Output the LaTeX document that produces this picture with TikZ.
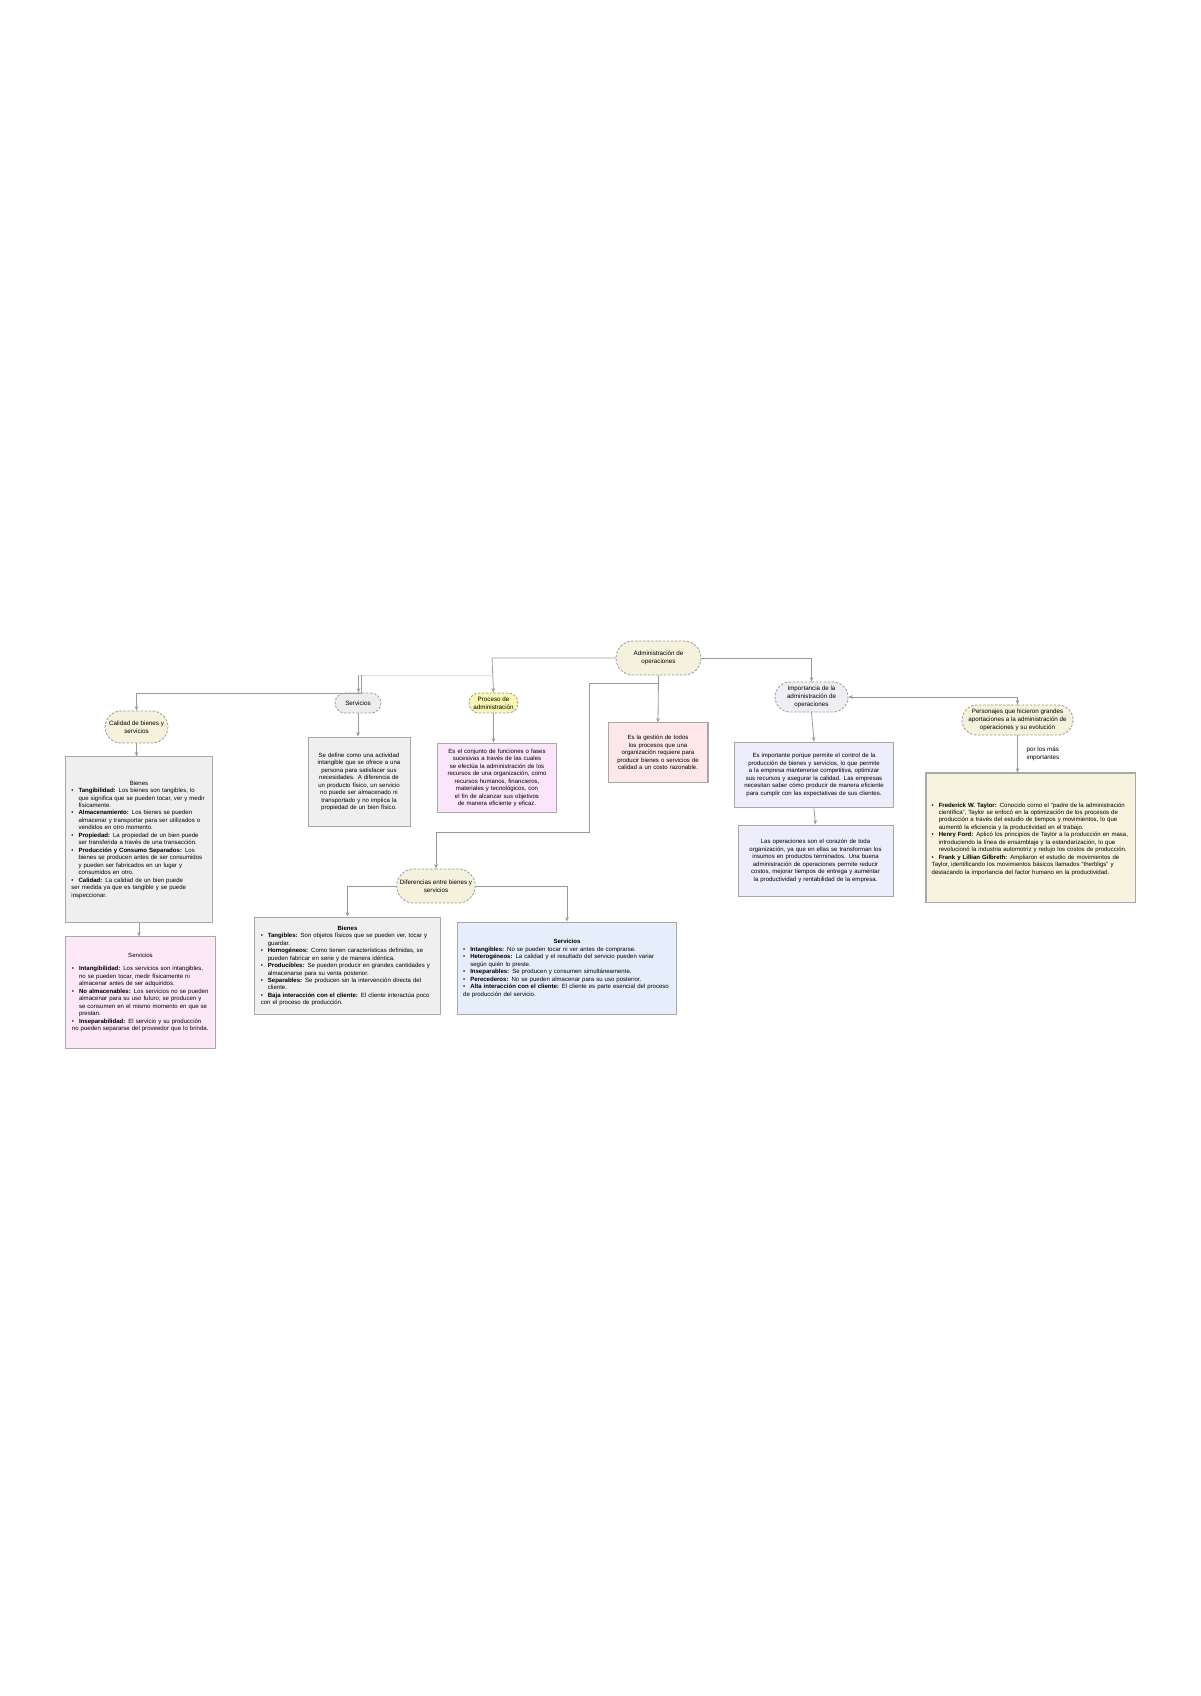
\documentclass[tikz,border=0pt]{standalone}
\usepackage{fontspec}
\setmainfont{Liberation Sans}
\usetikzlibrary{shapes.misc,arrows.meta}
\definecolor{beige}{HTML}{F4F1DC}
\definecolor{pillborder}{HTML}{9A9A9A}
\definecolor{boxborder}{HTML}{A8A8A8}
\definecolor{linegray}{HTML}{9A9A9A}
\definecolor{faintgray}{HTML}{E2E2E2}
\definecolor{graybox}{HTML}{EFEFEF}
\definecolor{pinkL}{HTML}{FCE8F6}
\definecolor{procbox}{HTML}{FBE5FA}
\definecolor{pinkC}{HTML}{FDE7E9}
\definecolor{purpbox}{HTML}{EEEDFC}
\definecolor{rightbox}{HTML}{F6F3DE}
\definecolor{bluebox}{HTML}{E7EEFB}
\definecolor{yellownode}{HTML}{F8F6B0}
\definecolor{graynode}{HTML}{EDEDED}
\definecolor{purpnode}{HTML}{EFEFF3}
\newcommand\nohy{\hyphenpenalty=10000\relax\exhyphenpenalty=10000\relax}
\newcommand\bul[2]{\par\hangindent=3.5pt\hangafter=1\noindent\makebox[3.5pt][l]{\textbullet}\textbf{#1} #2}
\begin{document}
\begin{tikzpicture}[x=0.4961pt,y=-0.4961pt,
  pill/.style={rounded rectangle, draw=pillborder, dash pattern=on 1.2pt off 0.8pt, line width=0.4pt, align=center, font=\fontsize{3.1}{3.8}\selectfont\nohy, inner sep=1pt},
  box/.style={rectangle, draw=boxborder, line width=0.5pt, font=\fontsize{3}{3.7}\selectfont\nohy, inner sep=0pt},
  conn/.style={draw=linegray, line width=0.4pt},
  arr/.style={conn, -{Stealth[length=2.2pt,width=1.8pt]}},
  darr/.style={conn, {Stealth[length=2.2pt,width=1.8pt]}-{Stealth[length=2.2pt,width=1.8pt]}}]
\useasboundingbox (0,0) rectangle (1200,1696);
\fill[white] (0,0) rectangle (1200,1696);

% pills
\node[pill, fill=beige, minimum width=44.2pt, minimum height=16.9pt] (root) at (658.5,658) {Administración de\\operaciones};
\node[pill, fill=beige, minimum width=33.2pt, minimum height=15.9pt] (cal) at (136.5,727) {Calidad de bienes y\\servicios};
\node[pill, fill=graynode, minimum width=24.8pt, minimum height=9.9pt] (serv) at (358,703) {Servicios};
\node[pill, fill=yellownode, minimum width=26.3pt, minimum height=9.9pt] (proc) at (493.5,703) {Proceso de\\administración};
\node[pill, fill=purpnode, minimum width=38.2pt, minimum height=14.9pt] (imp) at (811.5,697) {Importancia de la\\administración de\\operaciones};
\node[pill, fill=beige, minimum width=47.1pt, minimum height=14.9pt] (pers) at (1017.5,720) {Personajes que hicieron grandes\\aportaciones a la administración de\\operaciones y su evolución};
\node[pill, fill=beige, minimum width=38.7pt, minimum height=16.9pt] (dif) at (436,886) {Diferencias entre bienes y\\servicios};

% boxes
\node[box, fill=graybox, minimum width=73.4pt, minimum height=81.9pt, text width=67pt, align=left] (bienesL) at (139,839.5) {%
\makebox[\linewidth]{Bienes}
\bul{Tangibilidad:}{Los bienes son tangibles, lo que significa que se pueden tocar, ver y medir físicamente.}
\bul{Almacenamiento:}{Los bienes se pueden almacenar y transportar para ser utilizados o vendidos en otro momento.}
\bul{Propiedad:}{La propiedad de un bien puede ser transferida a través de una transacción.}
\bul{Producción y Consumo Separados:}{Los bienes se producen antes de ser consumidos y pueden ser fabricados en un lugar y consumidos en otro.}
\bul{Calidad:}{La calidad de un bien puede ser medida ya que es tangible y se puede inspeccionar.}};

\node[box, fill=pinkL, minimum width=74.9pt, minimum height=55.1pt, text width=68pt, align=left] (servL) at (140.5,992.5) {%
\makebox[\linewidth]{Servicios}\par\vspace{3pt}
\bul{Intangibilidad:}{Los servicios son intangibles, no se pueden tocar, medir físicamente ni almacenar antes de ser adquiridos.}
\bul{No almacenables:}{Los servicios no se pueden almacenar para su uso futuro; se producen y se consumen en el mismo momento en que se prestan.}
\bul{Inseparabilidad:}{El servicio y su producción no pueden separarse del proveedor que lo brinda.}};

\node[box, fill=graybox, minimum width=50.6pt, minimum height=44.6pt, text width=46pt, align=center] (servD) at (359,782) {Se define como una actividad intangible que se ofrece a una persona para satisfacer sus necesidades. A diferencia de un producto físico, un servicio no puede ser almacenado ni transportado y no implica la propiedad de un bien físico.};

\node[box, fill=procbox, minimum width=59.5pt, minimum height=34.7pt, text width=55pt, align=center] (procD) at (497,778) {Es el conjunto de funciones o fases sucesivas a través de las cuales se efectúa la administración de los recursos de una organización, como recursos humanos, financieros, materiales y tecnológicos, con el fin de alcanzar sus objetivos de manera eficiente y eficaz.};

\node[box, fill=pinkC, minimum width=49.6pt, minimum height=29.3pt, text width=46pt, align=center] (def) at (658,752.5) {Es la gestión de todos los procesos que una organización requiere para producir bienes o servicios de calidad a un costo razonable.};

\node[box, fill=purpbox, minimum width=78.4pt, minimum height=32.7pt, text width=73pt, align=center] (imp1) at (814,775) {Es importante porque permite el control de la producción de bienes y servicios, lo que permite a la empresa mantenerse competitiva, optimizar sus recursos y asegurar la calidad. Las empresas necesitan saber cómo producir de manera eficiente para cumplir con las expectativas de sus clientes.};

\node[box, fill=purpbox, minimum width=76.9pt, minimum height=35.7pt, text width=72pt, align=center] (imp2) at (815.5,861) {Las operaciones son el corazón de toda organización, ya que en ellas se transforman los insumos en productos terminados. Una buena administración de operaciones permite reducir costos, mejorar tiempos de entrega y aumentar la productividad y rentabilidad de la empresa.};

\node[box, fill=rightbox, minimum width=103.7pt, minimum height=64pt, text width=98pt, align=left] (persB) at (1030.5,837.5) {%
\bul{Frederick W. Taylor:}{Conocido como el ``padre de la administración científica'', Taylor se enfocó en la optimización de los procesos de producción a través del estudio de tiempos y movimientos, lo que aumentó la eficiencia y la productividad en el trabajo.}
\bul{Henry Ford:}{Aplicó los principios de Taylor a la producción en masa, introduciendo la línea de ensamblaje y la estandarización, lo que revolucionó la industria automotriz y redujo los costos de producción.}
\bul{Frank y Lillian Gilbreth:}{Ampliaron el estudio de movimientos de Taylor, identificando los movimientos básicos llamados ``therbligs'' y destacando la importancia del factor humano en la productividad.}};

\node[box, fill=graybox, minimum width=91.8pt, minimum height=48.6pt, text width=86pt, align=left] (bienesM) at (347.5,966) {%
\makebox[\linewidth]{\textbf{Bienes}}
\bul{Tangibles:}{Son objetos físicos que se pueden ver, tocar y guardar.}
\bul{Homogéneos:}{Como tienen características definidas, se pueden fabricar en serie y de manera idéntica.}
\bul{Producibles:}{Se pueden producir en grandes cantidades y almacenarse para su venta posterior.}
\bul{Separables:}{Se producen sin la intervención directa del cliente.}
\bul{Baja interacción con el cliente:}{El cliente interactúa poco con el proceso de producción.}};

\node[box, fill=bluebox, minimum width=109.1pt, minimum height=46.1pt, text width=103pt, align=left] (servM) at (567,968.5) {%
\makebox[\linewidth]{\textbf{Servicios}}
\bul{Intangibles:}{No se pueden tocar ni ver antes de comprarse.}
\bul{Heterogéneos:}{La calidad y el resultado del servicio pueden variar según quién lo preste.}
\bul{Inseparables:}{Se producen y consumen simultáneamente.}
\bul{Perecederos:}{No se pueden almacenar para su uso posterior.}
\bul{Alta interacción con el cliente:}{El cliente es parte esencial del proceso de producción del servicio.}};

% connectors
\coordinate (rl) at (492,658);
\coordinate (rj) at (492,675);
\coordinate (sj) at (360,675);
\draw[arr] (root.west) -- (rl) -- (proc.north);
\draw[draw=faintgray, line width=0.4pt] (rj) -- (sj);
\draw[arr] (358.5,675) -- (serv.north -| 358.5,0);
\draw[arr] (361.5,675) -- (361.5,693) -- (136.5,693) -- (cal.north);
\draw[arr] (root.south) -- (def.north);
\draw[arr] (root.south |- 0,683) -- (589,683) -- (589,832) -- (436,832) -- (dif.north);
\draw[arr] (root.east) -| (imp.north);
\draw[darr] (imp.east) -| (pers.north);
\draw[arr] (imp.south) -- (imp1.north);
\draw[arr] (imp1.south) -- (imp2.north);
\draw[arr] (pers.south) -- node[right, font=\fontsize{3.1}{3.8}\selectfont, align=left, xshift=1pt] {por los más\\importantes} (persB.north -| pers.south);
\draw[arr] (cal.south) -- (bienesL.north -| cal.south);
\draw[arr] (bienesL.south) -- (servL.north -| bienesL.south);
\draw[arr] (serv.south) -- (servD.north -| serv.south);
\draw[arr] (proc.south) -- (procD.north -| proc.south);
\draw[arr] (dif.west) -| (bienesM.north);
\draw[arr] (dif.east) -| (servM.north);
\end{tikzpicture}
\end{document}
